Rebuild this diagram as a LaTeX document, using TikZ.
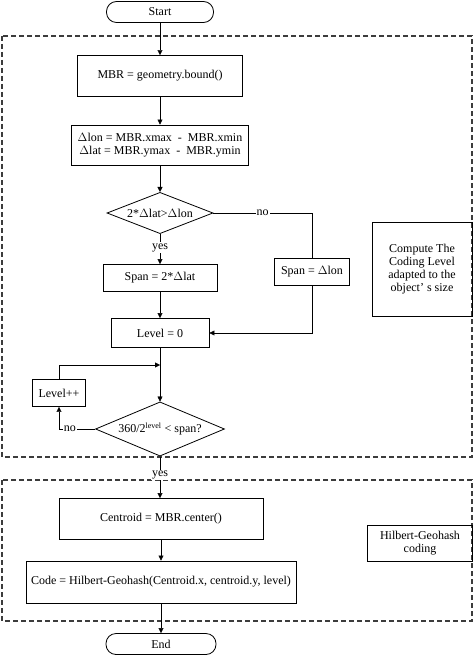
\documentclass[tikz,border=0pt]{standalone}
\usepackage{fontspec}
\setmainfont{Liberation Serif}
\usetikzlibrary{shapes.geometric,arrows.meta}
\definecolor{frame}{RGB}{60,60,60}
\newcommand{\drawarrow}{\draw[-{Triangle[length=5pt,width=5pt]}]}
\tikzset{
  procbox/.style={draw,thick,minimum width=#1,minimum height=40pt,inner sep=0pt,align=center},
  termbox/.style={draw,thick,rounded corners=10pt,minimum width=107pt,minimum height=21pt,inner sep=0pt},
  decbox/.style={draw,thick,diamond,aspect=2,inner sep=0pt,minimum width=#1},
  notebox/.style={draw,thick,align=center,inner sep=0pt},
  groupbox/.style={draw=frame,line width=1.3pt,dash pattern=on 5pt off 3pt},
  lbl/.style={fill=white,inner sep=1pt}
}
\begin{document}
\begin{tikzpicture}[x=1pt,y=-1pt,font=\fontsize{12}{13}\selectfont]
\useasboundingbox (0,0) rectangle (474,655);
% dashed groups
\draw[groupbox] (2,36) rectangle (472,457);
\draw[groupbox] (2,480) rectangle (472,621);
% terminals
\node[termbox] (start) at (160,12) {Start};
\node[termbox,minimum width=110pt] (end) at (161,644) {End};
% coding level part
\node[procbox=165pt,minimum height=41pt] (mbr) at (160,76) {MBR = geometry.bound()};
\node[procbox=177pt] (delta) at (160,145) {$\Delta$lon = MBR.xmax \ - \ MBR.xmin\\$\Delta$lat = MBR.ymax \ - \ MBR.ymin};
\node[decbox=106pt,minimum height=40pt] (cmp) at (160,213) {2*$\Delta$lat>$\Delta$lon};
\node[procbox=114pt,minimum height=27pt] (span2) at (160,278) {Span = 2*$\Delta$lat};
\node[procbox=75pt,minimum height=27pt] (span1) at (312,272) {Span = $\Delta$lon};
\node[procbox=98pt,minimum height=29pt] (lev0) at (160,333) {Level = 0};
\node[decbox=129pt,minimum height=39pt] (test) at (160,429) {360/2\textsuperscript{level} < span?};
\node[procbox=53pt,minimum height=27pt] (levinc) at (59,393) {Level++};
\coordinate (join) at (160,365);
\node[notebox,minimum width=100pt,minimum height=94pt] (note1) at (422,269) {Compute The\\Coding Level\\adapted to the\\object’\ s size};
% hilbert part
\node[procbox=204pt,minimum height=41pt] (cent) at (161,519) {Centroid = MBR.center()};
\node[procbox=270pt,minimum height=42pt] (code) at (161,582) {Code = Hilbert-Geohash(Centroid.x, centroid.y, level)};
\node[notebox,minimum width=105pt,minimum height=36pt] (note2) at (420,543) {Hilbert-Geohash\\coding};
% connectors
\drawarrow (start) -- (mbr);
\drawarrow (mbr) -- (delta);
\drawarrow (delta) -- (cmp);
\drawarrow (cmp) -- node[lbl,pos=0.45]{yes} (span2);
\draw (cmp.east) -- node[lbl]{no} (span1.north |- cmp.east) -- (span1.north);
\drawarrow (span2) -- (lev0);
\drawarrow (span1.south) |- (lev0.east);
\drawarrow (lev0) -- (test);
\drawarrow (test.west) -- node[lbl,pos=0.7]{no} (levinc.south |- test.west) -- (levinc.south);
\drawarrow (levinc.north) |- (join);
\drawarrow (test.south) -- node[lbl,pos=0.45]{yes} (cent.north -| test.south);
\drawarrow (cent) -- (code);
\drawarrow (code.south -| end.north) -- (end.north);
\end{tikzpicture}
\end{document}
